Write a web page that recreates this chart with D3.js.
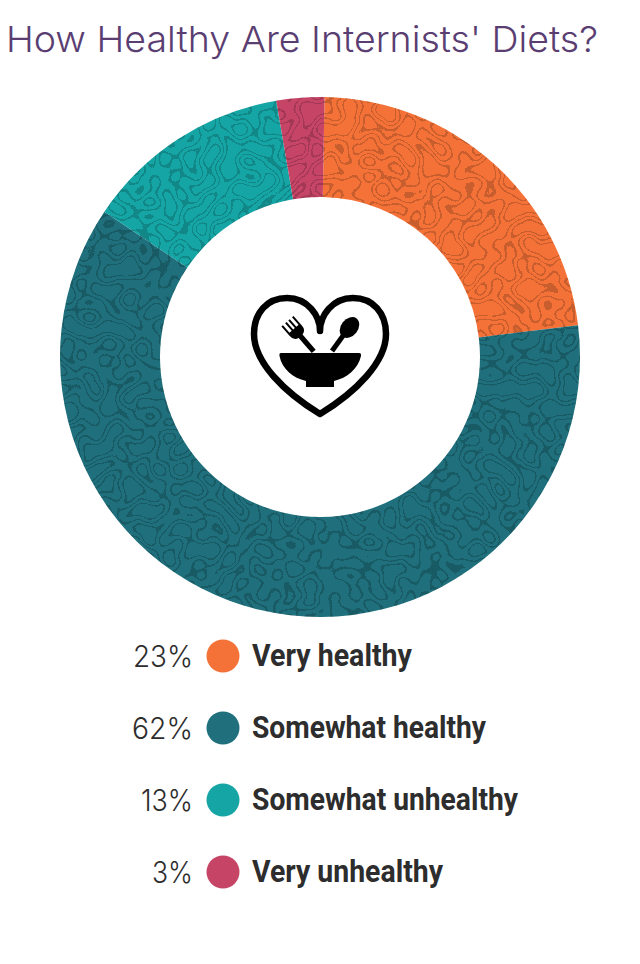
<!DOCTYPE html>
<html>
<head>
<meta charset="utf-8">
<script src="https://cdn.jsdelivr.net/npm/d3@7"></script>
<style>
html,body{margin:0;padding:0;background:#fff}
svg{display:block}
</style>
</head>
<body>
<div id="chart"></div>
<script>
const categories = ["Very healthy", "Somewhat healthy", "Somewhat unhealthy", "Very unhealthy"];
const percents = [23, 62, 13, 3];
const colors = ["#F47237", "#1F707C", "#16A5A5", "#C64566"];
const titleText = "How Healthy Are Internists' Diets?";

const width = 640, height = 964;
const cx = 320, cy = 357, outerR = 260, innerR = 160;

const svg = d3.select("#chart").append("svg")
  .attr("width", width).attr("height", height);

const defs = svg.append("defs");

// Topographic line texture: smooth turbulence quantised into a few contour bands
const topo = defs.append("filter").attr("id", "topo")
  .attr("x", 0).attr("y", 0).attr("width", "100%").attr("height", "100%")
  .attr("color-interpolation-filters", "sRGB");
topo.append("feTurbulence")
  .attr("type", "fractalNoise").attr("baseFrequency", 0.05)
  .attr("numOctaves", 1).attr("seed", 7);
topo.append("feColorMatrix").attr("type", "matrix")
  .attr("values", "0 0 0 0 0  0 0 0 0 0  0 0 0 0 0  1 0 0 0 0");
const contourSteps = [22, 23, 29, 30, 36, 37];
const bandTable = d3.range(60).map(i => contourSteps.includes(i) ? 1 : 0).join(" ");
topo.append("feComponentTransfer").append("feFuncA")
  .attr("type", "discrete").attr("tableValues", bandTable);
topo.append("feGaussianBlur").attr("stdDeviation", 0.4);

const pie = d3.pie().sort(null).value(d => d)
  .startAngle(Math.PI / 180).endAngle(Math.PI * 2 + Math.PI / 180);
const arc = d3.arc().innerRadius(innerR).outerRadius(outerR);
const arcs = pie(percents);

const ring = svg.append("g").attr("transform", `translate(${cx},${cy})`);
ring.selectAll("path").data(arcs).join("path")
  .attr("d", arc)
  .attr("fill", (d, i) => colors[i]);

// The texture is clipped to the whole ring so slice boundaries stay seamless
defs.append("clipPath").attr("id", "ringClip")
  .append("path")
  .attr("transform", `translate(${cx},${cy})`)
  .attr("d", arc({ startAngle: 0, endAngle: Math.PI * 2 }));

svg.append("g").attr("clip-path", "url(#ringClip)")
  .append("rect")
  .attr("x", cx - outerR - 4).attr("y", cy - outerR - 4)
  .attr("width", 2 * outerR + 8).attr("height", 2 * outerR + 8)
  .attr("fill", "#000")
  .attr("filter", "url(#topo)")
  .attr("opacity", 0.18);

// Title
svg.append("text")
  .attr("x", 6).attr("y", 52)
  .attr("font-family", "Inter, sans-serif")
  .attr("font-size", 36).attr("font-weight", 300)
  .attr("fill", "#5A3E72")
  .attr("textLength", 592).attr("lengthAdjust", "spacingAndGlyphs")
  .text(titleText);

// Heart-and-bowl emblem in the middle of the ring
const icon = svg.append("g");
icon.append("path")
  .attr("d", "M320 331 C320 316 308 298 287 298 C267 298 254 313 254 334 C254 362 284 392 320 414 C356 392 386 362 386 334 C386 313 373 298 353 298 C332 298 320 316 320 331")
  .attr("fill", "none").attr("stroke", "#000").attr("stroke-width", 6.5)
  .attr("stroke-linecap", "round").attr("stroke-linejoin", "round");
icon.append("path")
  .attr("d", "M281 353 L359 353 Q361.5 353 361 356 C358 369 347 378 334 381 L334 387 L306 387 L306 381 C293 378 282 369 279.5 356 Q279 353 281 353 Z")
  .attr("fill", "#000");
// Spoon
icon.append("ellipse")
  .attr("cx", 0).attr("cy", 0).attr("rx", 8.5).attr("ry", 11.5)
  .attr("transform", "translate(349.5,327.5) rotate(38)").attr("fill", "#000");
icon.append("line")
  .attr("x1", 345).attr("y1", 333).attr("x2", 332).attr("y2", 351)
  .attr("stroke", "#000").attr("stroke-width", 5);
// Fork
const fork = icon.append("g").attr("transform", "translate(296,331) rotate(-41)");
fork.append("path")
  .attr("d", "M-8 -13 L-6 -13 L-6 -3 L-3.1 -3 L-3.1 -13 L-1.1 -13 L-1.1 -3 L1.1 -3 L1.1 -13 L3.1 -13 L3.1 -3 L6 -3 L6 -13 L8 -13 L8 0 Q8 6 2.6 7 L2.6 27 L-2.6 27 L-2.6 7 Q-8 6 -8 0 Z")
  .attr("fill", "#000");

// Legend
const rowY = d3.scalePoint().domain(categories).range([656, 872]);
const labelWidths = [160, 234, 266, 191];
const percentWidths = [60, 61, 52, 41];
const rows = svg.append("g").selectAll("g").data(categories).join("g")
  .attr("transform", d => `translate(0,${rowY(d)})`);
rows.append("circle")
  .attr("cx", 223).attr("r", 16.5)
  .attr("fill", (d, i) => colors[i]);
rows.append("text")
  .attr("x", 193).attr("y", 10.5)
  .attr("text-anchor", "end")
  .attr("font-family", "Inter, sans-serif")
  .attr("font-size", 30).attr("font-weight", 300)
  .attr("fill", "#2d2d2d")
  .attr("textLength", (d, i) => percentWidths[i])
  .attr("lengthAdjust", "spacingAndGlyphs")
  .text((d, i) => percents[i] + "%");
rows.append("text")
  .attr("x", 252).attr("y", 10)
  .attr("font-family", "Roboto, sans-serif")
  .attr("font-size", 32).attr("font-weight", 700)
  .attr("fill", "#2d2d2d")
  .attr("textLength", (d, i) => labelWidths[i])
  .attr("lengthAdjust", "spacingAndGlyphs")
  .text(d => d);
</script>
</body>
</html>
